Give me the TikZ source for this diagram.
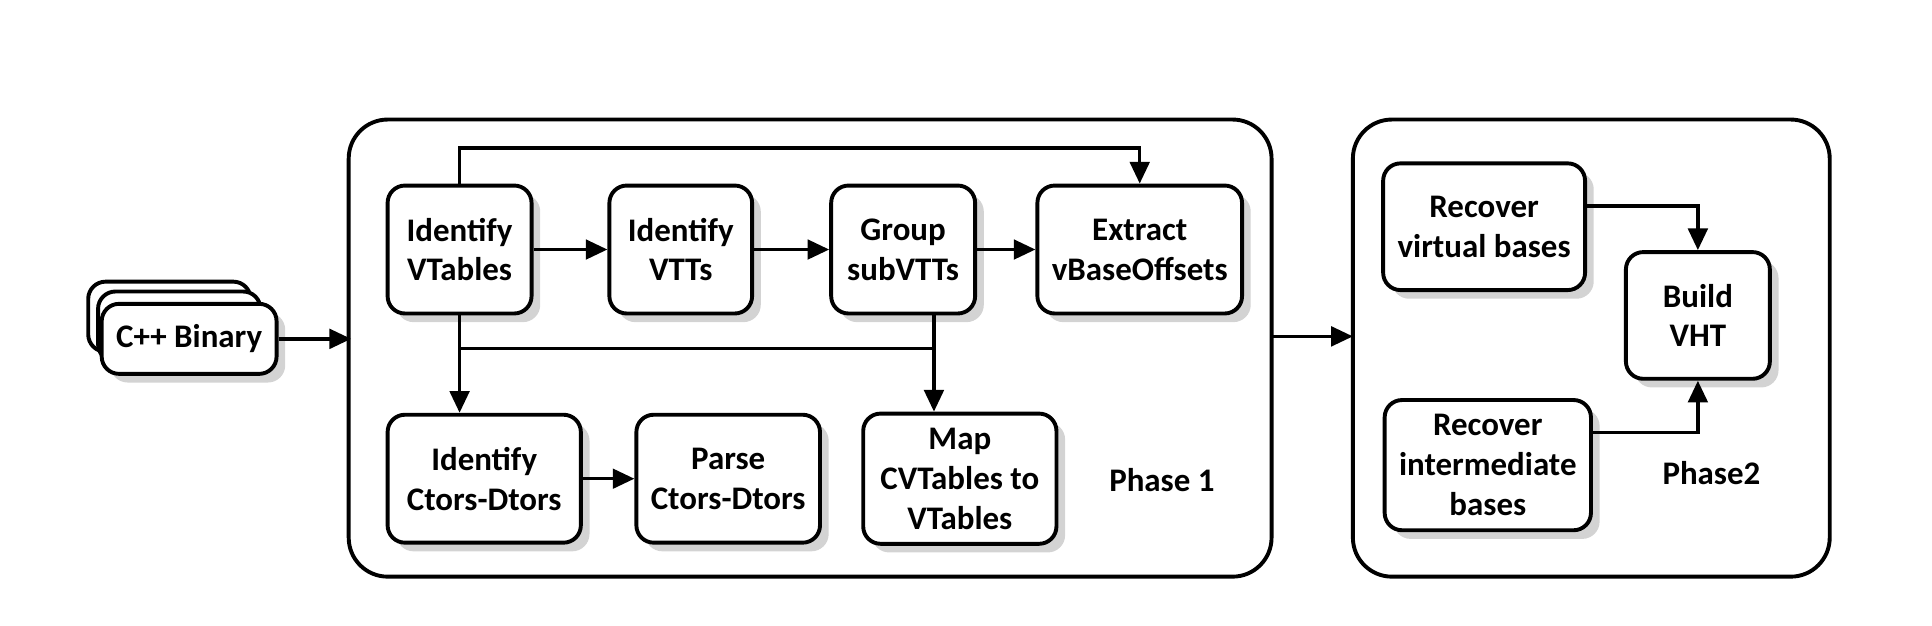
\documentclass[tikz,border=0pt]{standalone}
\usepackage{fontspec}
\setmainfont{Carlito}
\usetikzlibrary{arrows.meta,shadows}
\begin{document}
\begin{tikzpicture}[x=0.01cm,y=-0.01cm,
  box/.style={draw,line width=0.9pt,rounded corners=4pt,fill=white,drop shadow={shadow xshift=2pt,shadow yshift=-2pt,opacity=0.35},align=center,font=\fontsize{7.6}{9.2}\selectfont\bfseries},
  big/.style={draw,line width=0.9pt,rounded corners=9pt},
  arr/.style={-{Triangle[length=5pt,width=4.5pt]},line width=0.8pt},
  ln/.style={line width=0.8pt},
  lab/.style={font=\fontsize{7.6}{9.2}\selectfont\bfseries}]
\useasboundingbox (0,0) rectangle (1568,508);
\def\bx#1#2#3#4#5#6{\node[box,minimum width=#4*0.01cm-0.9pt,minimum height=#5*0.01cm-0.9pt] (#1) at (#2,#3) {#6};}
% phase boxes
\draw[big] (283,97) rectangle (1032,468);
\draw[big] (1098,97) rectangle (1485,468);
\node[lab] (p1) at (943,390) {Phase 1};
\node[lab] (p2) at (1389,384) {Phase2};
% binary stack
\bx{b3}{137.5}{257}{135}{60}{}
\bx{b2}{145.5}{265}{135}{60}{}
\bx{bin}{153.5}{275}{135}{60}{C++ Binary}
\coordinate (p1in) at (285,275);
\draw[arr] (bin.east) -- (p1in);
% phase 1
\bx{vt}{373}{202.5}{120}{107}{Identify\\VTables}
\bx{vtt}{552.5}{202.5}{119}{107}{Identify\\VTTs}
\bx{grp}{733}{202.5}{120}{107}{Group\\subVTTs}
\bx{ext}{925}{202.5}{160}{107}{Extract\\vBaseOffsets}
\bx{ctor}{393}{388.5}{160}{107}{Identify\\Ctors-Dtors}
\bx{parse}{591}{388.5}{144}{107}{Parse\\Ctors-Dtors}
\bx{map}{779}{388.5}{160}{107}{Map\\CVTables to\\VTables}
\draw[arr] (vt) -- (vtt);
\draw[arr] (vtt) -- (grp);
\draw[arr] (grp) -- (ext);
\draw[arr] (ctor) -- (parse);
\draw[arr] (vt.north) -- ++(0,-29) -| (ext.north);
\draw[arr] (vt.south) -- (vt.south|-ctor.north);
\coordinate (hj) at (373,283);
\coordinate (he) at (760,283);
\draw[ln] (hj) -- (he);
\draw[arr] (grp.south-|758,0) -- (map.north-|758,0);
% between phases
\coordinate (o1) at (1032,273);
\coordinate (o2) at (1098,273);
\draw[arr] (o1) -- (o2);
% phase 2
\bx{rv}{1204.5}{184}{161}{106}{Recover\\virtual bases}
\bx{vht}{1378}{256}{120}{106}{Build\\VHT}
\bx{ri}{1207.5}{377.5}{167}{107}{Recover\\intermediate\\bases}
\draw[arr] (rv.east|-0,167) -| (vht.north);
\draw[arr] (ri.east|-0,351) -| (vht.south);
\end{tikzpicture}
\end{document}
